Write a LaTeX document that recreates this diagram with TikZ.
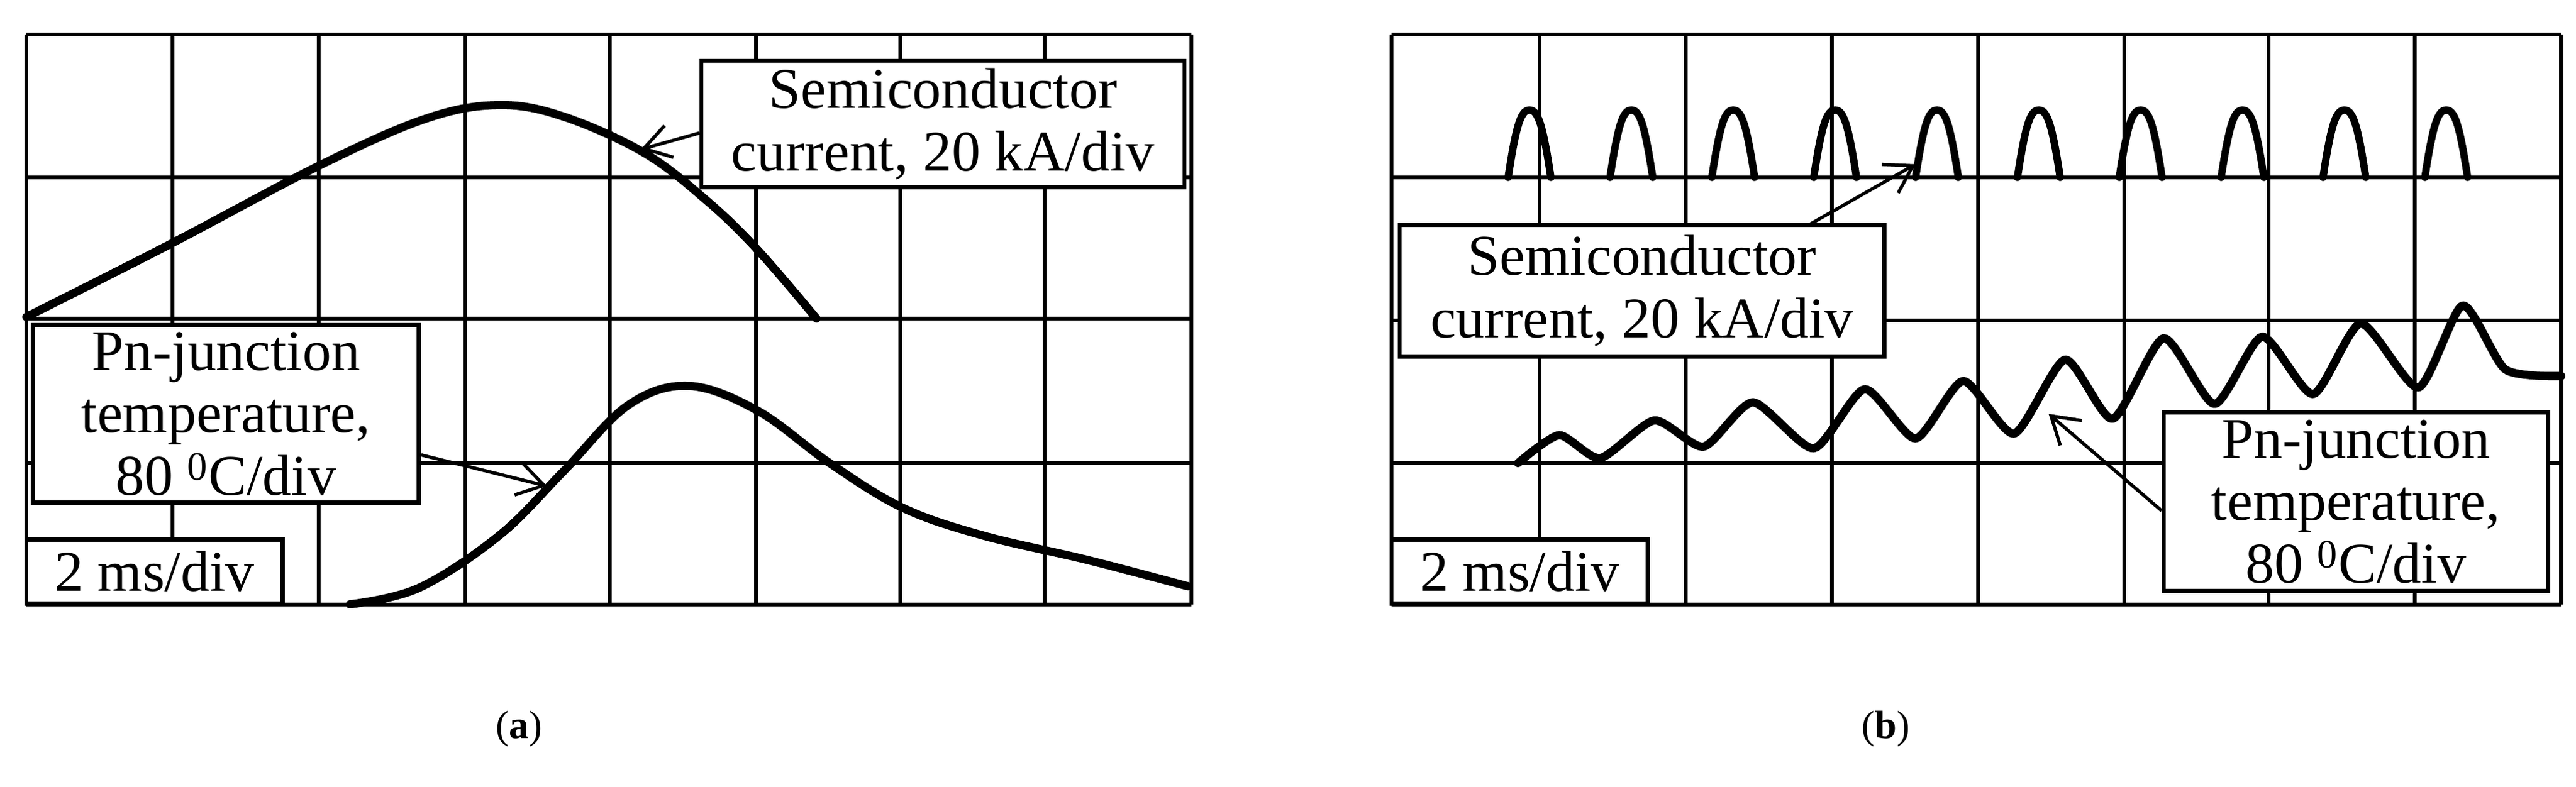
\documentclass[tikz,border=0pt]{standalone}
\usepackage{fontspec}
\setmainfont{Liberation Serif}
\usetikzlibrary{arrows.meta}
\begin{document}
\begin{tikzpicture}[x=1pt,y=-1pt,
  gridl/.style={line width=2.3pt},
  curve/.style={line width=5pt,line cap=round,line join=round},
  lbl/.style={draw,fill=white,line width=2.5pt,inner sep=0pt,align=center,font=\fontsize{35}{38}\selectfont},
  ptr/.style={line width=2pt,-{Straight Barb[length=16pt,width=20pt,line width=2pt]}},
  captxt/.style={font=\fontsize{24}{28}\selectfont}]
\useasboundingbox (0,0) rectangle (1568,479);
% left grid
\foreach \x in {16,105,194,283,371,460,548,636,725} \draw[gridl] (\x,21) -- (\x,368);
\foreach \y in {21,108,194,282,368} \draw[gridl] (16,\y) -- (725,\y);
% right grid
\foreach \x in {847,937,1026,1115,1204,1293,1381,1470,1559} \draw[gridl] (\x,21) -- (\x,368);
\foreach \y in {21,108,195,282,368} \draw[gridl] (847,\y) -- (1559,\y);
% left curves
\draw[curve] plot[smooth,tension=0.6] coordinates {(16,193) (103,149) (196,100) (260,72) (304,64) (343,71) (392,93) (430,122) (461,152) (497,194)};
\draw[curve] plot[smooth,tension=0.6] coordinates {(213,368) (255,358) (304,326) (343,287) (382,247) (419,235) (461,250) (505,282) (549,309) (598,326) (662,341) (723,357)};
% right pulses
\foreach \p in {0,...,9} {
  \pgfmathsetmacro{\c}{931+62*\p}
  \draw[curve,line width=4.5pt] (\c-13,108) .. controls (\c-8,75) and (\c-5,67) .. (\c,67) .. controls (\c+5,67) and (\c+8,75) .. (\c+13,108);
}
\draw[curve] plot[smooth,tension=0.4] coordinates {(924,282) (949,265) (974,279) (1007,256) (1037,272) (1067,245) (1104,273) (1135,237) (1166,267) (1195,232) (1226,264) (1257,219) (1286,255) (1317,206) (1348,246) (1377,205) (1408,240) (1437,197) (1472,236) (1499,186) (1525,225) (1559,229)};
% left labels
\node[lbl,minimum width=294pt,minimum height=77pt] (sa) at (574,75.5) {Semiconductor\\current, 20 kA/div};
\node[lbl,minimum width=235pt,minimum height=108pt] (pa) at (137.5,252) {Pn-junction\\temperature,\\80 \textsuperscript{0}C/div};
\node[lbl,minimum width=156pt,minimum height=39pt] (ta) at (94,348) {2 ms/div};
\coordinate (sat) at (390,91);
\coordinate (pat) at (333,296);
\draw[ptr] (sa.west |- 0,81) -- (sat);
\draw[ptr] (pa.east |- 0,277) -- (pat);
% right labels
\node[lbl,minimum width=295pt,minimum height=80pt] (sb) at (999.5,177) {Semiconductor\\current, 20 kA/div};
\node[lbl,minimum width=234pt,minimum height=109pt] (pb) at (1434,305.5) {Pn-junction\\temperature,\\80 \textsuperscript{0}C/div};
\node[lbl,minimum width=156pt,minimum height=39pt] (tb) at (925,348) {2 ms/div};
\coordinate (sbt) at (1166,100);
\coordinate (pbt) at (1247,252);
\draw[ptr] (1101,137) -- (sbt);
\draw[ptr] (pb.west |- 0,311) -- (pbt);
% captions
\node[captxt] (ca) at (316,444) {(\textbf{a})};
\node[captxt] (cb) at (1148,444) {(\textbf{b})};
\end{tikzpicture}
\end{document}
